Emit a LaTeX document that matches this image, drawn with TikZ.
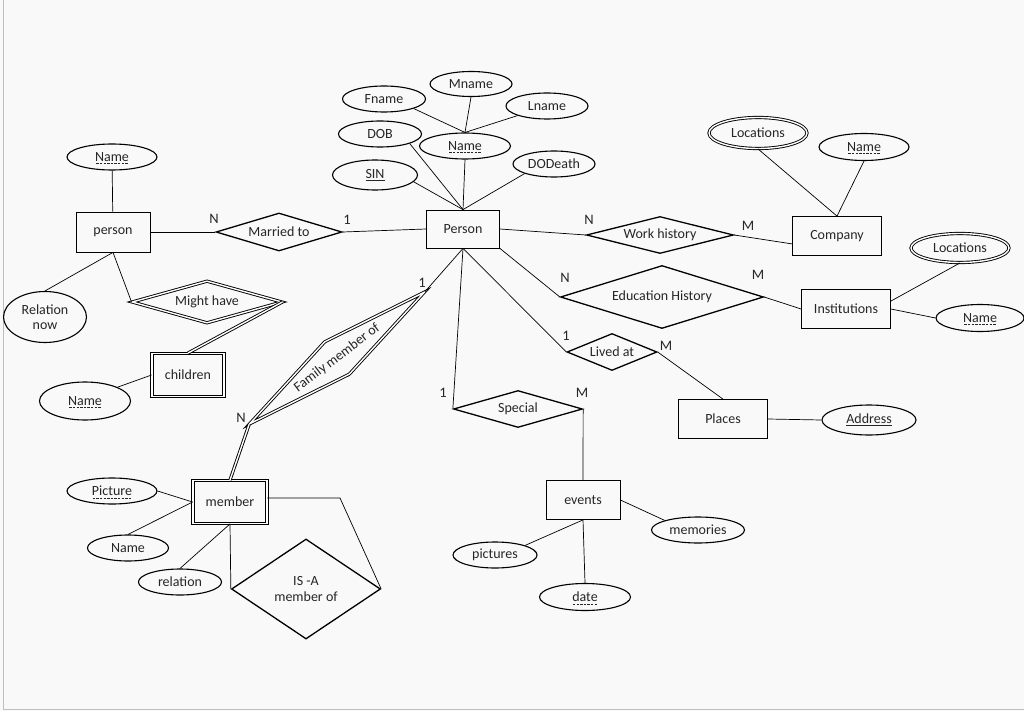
\documentclass[tikz,border=0pt]{standalone}
\usepackage{fontspec}
\setmainfont{Carlito}
\usetikzlibrary{shapes.geometric,calc}
\newcommand{\dashul}[1]{\setbox0=\hbox{#1}\rlap{\smash{\lower2.4pt\hbox to\wd0{%
  \cleaders\hbox to 3.6pt{\hss\vrule width 2.3pt height 0.6pt\hss}\hfill}}}\box0}

\begin{document}
\begin{tikzpicture}[x=1pt, y=-1pt,
  font=\fontsize{14}{15.5}\selectfont, text=black!85,
  sz/.style 2 args={minimum width=#1, minimum height=#2},
  rsz/.style 2 args={minimum width=#1, minimum height=#2,
    /utils/exec={\pgfmathsetmacro\relaspect{#1/#2}}, aspect=\relaspect},
  ent/.style={draw, rectangle, line width=0.8pt, inner sep=0pt},
  attr/.style={draw, ellipse, line width=1.1pt, inner sep=0pt, align=center},
  rel/.style={draw, diamond, line width=1.3pt, inner sep=0pt, align=center},
  weak/.style={double, double distance=1.4pt, line width=0.9pt},
  link/.style={line width=0.7pt},
  card/.style={inner sep=0pt, font=\fontsize{14.5}{16}\selectfont}
]
\useasboundingbox[fill=black!2.5] (0,0) rectangle (1024,711);
\draw[black!25, line width=1pt] (3.5,0) -- (3.5,709) -- (1024,709);

% entities
\node[ent, sz={73}{38}] (person) at (463,229) {Person};
\node[ent, sz={74}{40}] (partner) at (113,232) {person};
\node[ent, weak, sz={72}{43}] (children) at (188,375) {children};
\node[ent, weak, sz={74}{43}] (member) at (230,502) {member};
\node[ent, sz={89}{39}] (company) at (837,236) {Company};
\node[ent, sz={89}{39}] (inst) at (846,309) {Institutions};
\node[ent, sz={89}{39}] (places) at (723,419) {Places};
\node[ent, sz={74}{39}] (events) at (583,500) {events};

% relationships
\node[rel, rsz={126}{38}] (marriedTo) at (279,232) {Married to};
\node[rel, weak, rsz={150}{42}] (mightHave) at (207,302) {Might have};
\node[rel, weak, rsz={219}{41}, rotate=37] (famMember) at (337,358) {Family member of};
\node[rel, rsz={149}{100}] (isA) at (306,589) {IS -A\\member of};
\node[rel, rsz={147}{37}] (workHist) at (660,235) {Work history};
\node[rel, rsz={203}{63}] (eduHist) at (662,297) {Education History};
\node[rel, rsz={90}{37}] (livedAt) at (612,352) {Lived at};
\node[rel, rsz={129}{37}] (special) at (518,409) {Special};

% attributes
\node[attr, sz={90}{26}] (partnerName) at (112,157) {\dashul{Name}};
\node[attr, sz={83}{51}] (relNow) at (45,317) {Relation\\now};
\node[attr, sz={91}{38}] (childName) at (85,401) {\dashul{Name}};
\node[attr, sz={90}{26}] (picture) at (112,491) {\dashul{Picture}};
\node[attr, sz={81}{26}] (memName) at (128,548) {Name};
\node[attr, sz={83}{26}] (relation) at (180,582) {relation};
\node[attr, sz={82}{25}] (mname) at (471,84) {Mname};
\node[attr, sz={83}{26}] (fname) at (384,99) {Fname};
\node[attr, sz={82}{26}] (lname) at (547,106) {Lname};
\node[attr, sz={83}{26}] (dob) at (380,134) {DOB};
\node[attr, sz={91}{26}] (name) at (465,146) {\dashul{Name}};
\node[attr, sz={85}{30}] (sin) at (375,175) {\underline{SIN}};
\node[attr, sz={82}{26}] (dodeath) at (554,164) {DODeath};
\node[attr, weak, sz={98}{31}] (compLoc) at (758,133) {Locations};
\node[attr, sz={90}{27}] (compName) at (864,147) {\dashul{Name}};
\node[attr, weak, sz={98}{29}] (instLoc) at (960,248) {Locations};
\node[attr, sz={88}{27}] (instName) at (980,318) {\dashul{Name}};
\node[attr, sz={94}{30}] (address) at (869,420) {\underline{Address}};
\node[attr, sz={93}{26}] (memories) at (698,530) {memories};
\node[attr, sz={84}{26}] (pictures) at (495,555) {pictures};
\node[attr, sz={91}{27}] (date) at (585,597) {\dashul{date}};
\coordinate (isaBend) at (340,498);

% cardinalities
\node[card] (cMarN) at (214,219) {N};
\node[card] (cMar1) at (347,220) {1};
\node[card] (cFam1) at (422,283) {1};
\node[card] (cFamN) at (241,418) {N};
\node[card] (cWorkN) at (589,220) {N};
\node[card] (cWorkM) at (748,226) {M};
\node[card] (cEduN) at (565,278) {N};
\node[card] (cEduM) at (758,275) {M};
\node[card] (cLiv1) at (566,336) {1};
\node[card] (cLivM) at (666,346) {M};
\node[card] (cSpe1) at (443,393) {1};
\node[card] (cSpeM) at (582,393) {M};

% connectors
\draw[link] (partnerName) -- (partner);
\draw[link] (partner.south) -- (relNow.north);
\draw[link] (partner.south) -- (mightHave.west);
\draw[link] (partner.east) -- (marriedTo.west);
\draw[link] (marriedTo.east) -- (person.west);
\draw[weak] (mightHave.east) -- (children.north);
\draw[link] (childName.north east) -- (children.west);
\draw[link] (person.south) -- (famMember.east);
\draw[weak] (famMember.west) -- (member.north);
\draw[link] (picture.east) -- (member.west);
\draw[link] (memName.north) -- (member.west);
\draw[link] (relation.north) -- (member.south);
\draw[link] (member.south) -- (isA.west);
\draw[link] (member.east |- isaBend) -- (isaBend) -- (isA.east);
\draw[link] (fname.south east) -- (name.north);
\draw[link] (mname.south) -- (name.north);
\draw[link] (lname.south west) -- (name.north);
\draw[link] (name.south) -- (person.north);
\draw[link] (dob.south east) -- (person.north);
\draw[link] (sin.-10) -- (person.north);
\draw[link] (dodeath.south west) -- (person.north);
\draw[link] (person.east) -- (workHist.west);
\draw[link] (workHist.east) -- (company.190);
\draw[link] (compLoc.south) -- (company.north);
\draw[link] (compName.south) -- (company.north);
\draw[link] (person.south east) -- (eduHist.west);
\draw[link] (eduHist.east) -- (inst.west);
\draw[link] (instLoc.south) -- (inst.10);
\draw[link] (instName.west) -- (inst.east);
\draw[link] (person.south) -- (livedAt.west);
\draw[link] (livedAt.east) -- (places.north);
\draw[link] (places.east) -- (address.west);
\draw[link] (person.south) -- (special.west);
\draw[link] (special.east) -- (events.north);
\draw[link] (events.east) -- (memories.north west);
\draw[link] (events.south) -- (pictures.north east);
\draw[link] (events.south) -- (date.north);
\end{tikzpicture}
\end{document}
